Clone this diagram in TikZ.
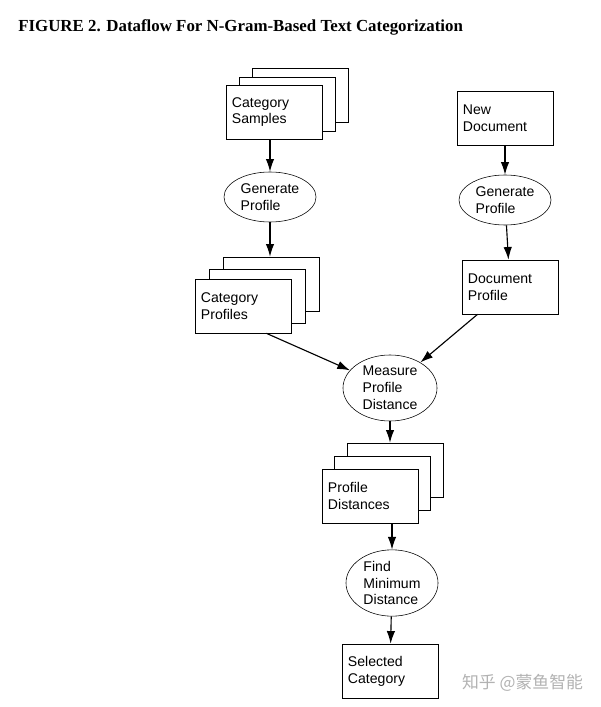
\documentclass[tikz,border=0pt]{standalone}
\usepackage{fontspec}
\setmainfont{Liberation Serif}
\setsansfont{Liberation Sans}
\newfontfamily\cjk{Noto Sans CJK SC}
\usetikzlibrary{arrows.meta,shapes.geometric,positioning}
\tikzset{
    box/.style={draw, fill=white, minimum width=2.4cm, minimum height=1.35cm, align=left, font=\sffamily, inner sep=4pt},
    proc/.style={draw, ellipse, fill=white, minimum width=2.25cm, minimum height=1.25cm, align=left, font=\sffamily, inner sep=1pt},
    flow/.style={-{Latex[length=9pt,width=6pt]}, thick},
}
\begin{document}
\begin{tikzpicture}[x=0.025cm, y=-0.025cm]
    \useasboundingbox (0,0) rectangle (600,707);
    % title
    \node[anchor=west, font=\bfseries\large, inner sep=0pt] (title) at (18,27) {FIGURE 2. Dataflow For N-Gram-Based Text Categorization};
    % left column
    \node[box] (cs3) at (300,95) {};
    \node[box] (cs2) at (287,104) {};
    \node[box, text width=2.1cm] (cs) at (274,112) {Category\\Samples};
    \node[proc, minimum width=2.3cm] (gp1) at (270,197) {Generate\\Profile};
    \node[box] (cp3) at (271,284) {};
    \node[box] (cp2) at (257,296) {};
    \node[box, text width=2.1cm] (cp) at (243,306) {Category\\Profiles};
    % right column
    \node[box, text width=2.1cm] (nd) at (505,118) {New\\Document};
    \node[proc, minimum width=2.3cm] (gp2) at (505,200) {Generate\\Profile};
    \node[box, text width=2.1cm] (dp) at (510,287) {Document\\Profile};
    % lower part
    \node[proc, minimum width=2.35cm, minimum height=1.65cm] (mpd) at (390,388) {Measure\\Profile\\Distance};
    \node[box] (pd3) at (395,470) {};
    \node[box] (pd2) at (382,483) {};
    \node[box, text width=2.1cm] (pd) at (370,496) {Profile\\Distances};
    \node[proc, minimum width=2.3cm, minimum height=1.65cm] (fmd) at (392,583) {Find\\Minimum\\Distance};
    \node[box, text width=2.1cm] (sc) at (390,671) {Selected\\Category};
    % connectors
    \draw[flow] (cs.south -| gp1) -- (gp1);
    \draw[flow] (gp1) -- (gp1 |- cp3.north);
    \draw[flow] (nd) -- (gp2);
    \draw[flow] (gp2) -- (dp);
    \draw[flow] (cp.south east) ++(-25,0) coordinate (cpo) -- (mpd);
    \draw[flow] (dp) -- (mpd);
    \draw[flow] (mpd) -- (mpd |- pd3.north);
    \draw[flow] (pd.south -| fmd) -- (fmd);
    \draw[flow] (fmd) -- (sc);
    % watermark
    \node[anchor=east, text=gray!60, font=\cjk\large] (wm) at (588,683) {知乎 @蒙鱼智能};
\end{tikzpicture}
\end{document}
